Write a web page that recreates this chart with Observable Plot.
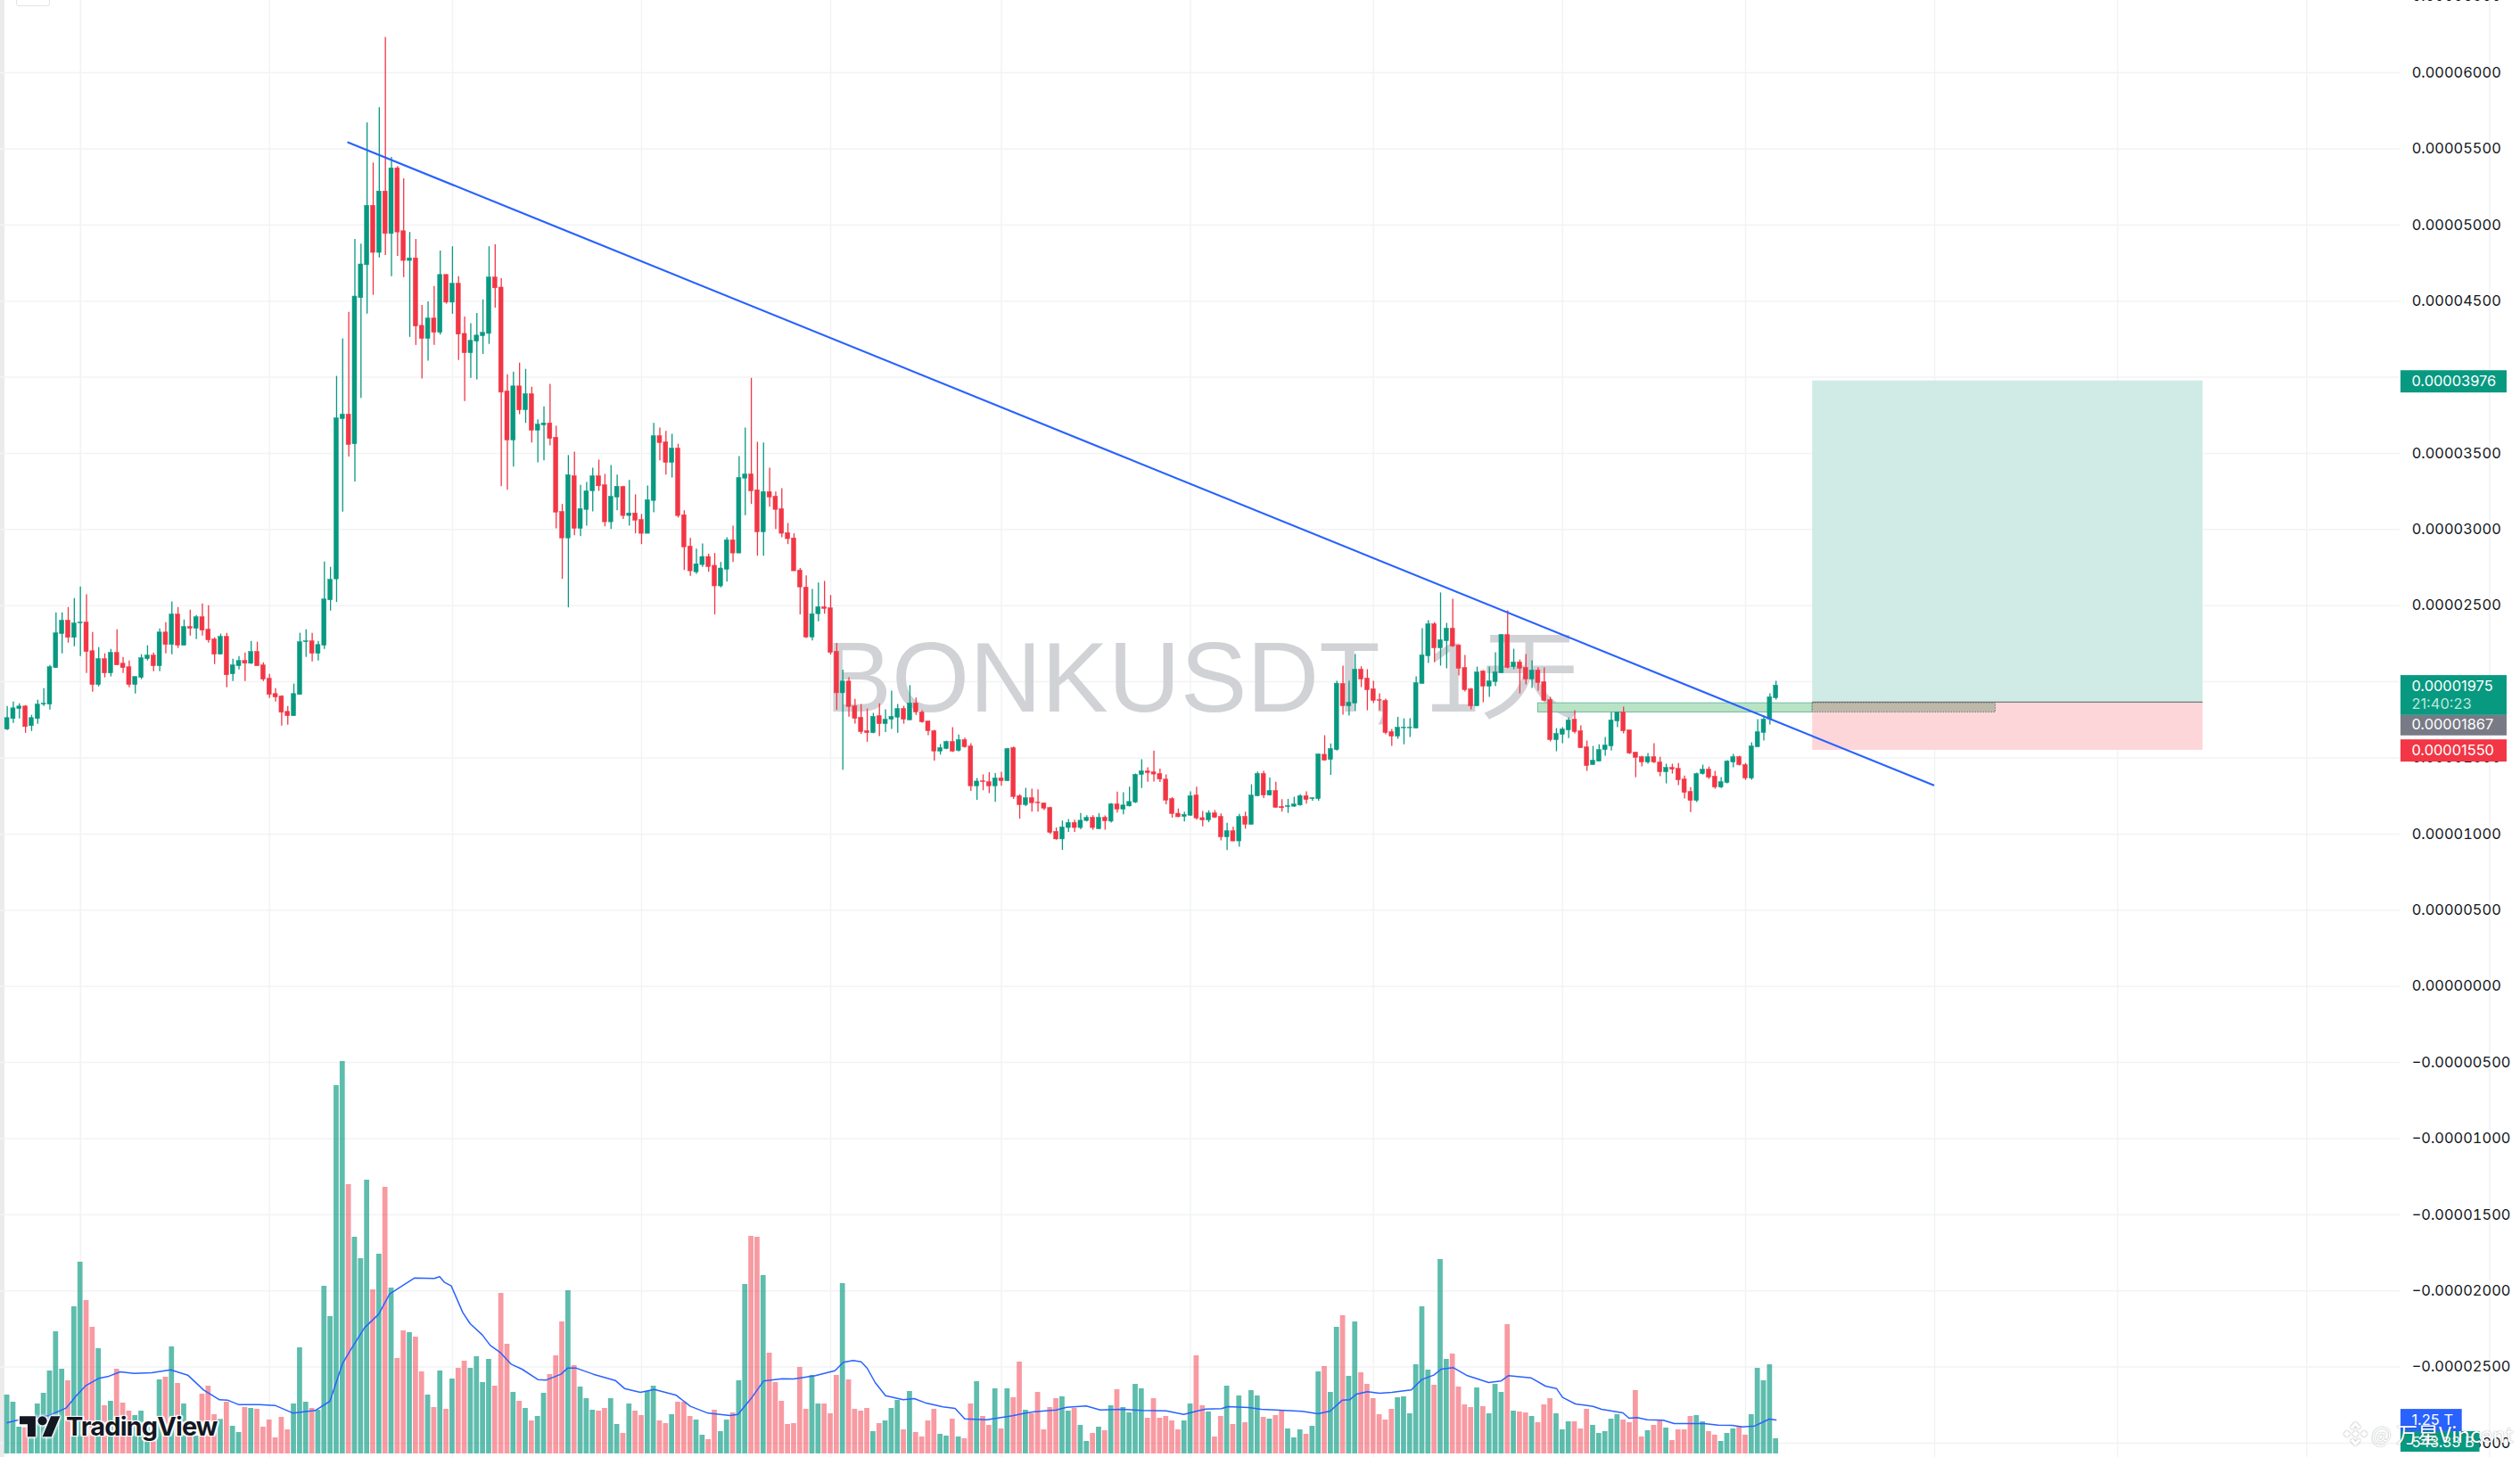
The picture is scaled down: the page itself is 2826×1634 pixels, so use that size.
<!DOCTYPE html>
<html>
<head>
<meta charset="utf-8">
<script src="https://cdn.jsdelivr.net/npm/d3@7"></script>
<script src="https://cdn.jsdelivr.net/npm/@observablehq/plot@0.6"></script>
<style>
html,body{margin:0;padding:0;background:#fff;}
#stage{position:relative;width:2826px;height:1634px;overflow:hidden;background:#fff;font-family:Inter,"Noto Sans CJK SC",sans-serif;}
#stage svg.layer{position:absolute;left:0;top:0;}
#strip{position:absolute;left:0;top:0;width:5px;height:1634px;background:#ebebeb;}
#corner{position:absolute;left:18px;top:-12px;width:36px;height:17px;border:1px solid #e0e3eb;border-radius:3px;background:#fff;}
#logo{position:absolute;left:22px;top:1583px;width:46px;height:36px;filter:drop-shadow(0 0 1px #fff) drop-shadow(0 0 1px #fff) drop-shadow(0 0 1px #fff);}
#logoText{position:absolute;left:74px;top:1583px;font:700 29px/34px Inter,sans-serif;letter-spacing:-.9px;color:#131722;text-shadow:1px 0 #fff,-1px 0 #fff,0 1px #fff,0 -1px #fff,2px 1px 1px #fff,-2px -1px 1px #fff,2px -1px 1px #fff,-2px 1px 1px #fff;}
#bnb{position:absolute;left:2627px;top:1593px;width:29px;height:30px;filter:drop-shadow(0 0 1.2px rgba(0,0,0,.4));}
#mark{position:absolute;left:2659px;top:1592px;font:400 24px/32px "Noto Sans CJK SC",Inter,sans-serif;color:#fff;text-shadow:0 0 2px rgba(0,0,0,.28),0 0 1px rgba(0,0,0,.2);white-space:pre;}
</style>
</head>
<body>
<div id="stage">
<div id="strip"></div>
<div id="corner"></div>
</div>
<script>
// prices in units of 0.00000001 USDT
const highs=[1838,1867,1856,1844,1780,1879,1955,2108,2453,2453,
2488,2547,2623,2571,2324,2225,2184,2213,2342,2160,
2137,2032,2178,2237,2190,2348,2389,2524,2488,2406,
2471,2436,2512,2500,2289,2313,2319,2149,2166,2190,
2266,2260,2125,2049,1955,1908,1838,1985,2319,2342,
2319,2266,2787,2752,4006,4252,4427,4905,4875,5671,
5407,5770,6231,5443,5384,5303,4951,4905,4472,4495,
4596,4829,4672,4857,4660,4396,4351,4419,4508,4857,
4870,4647,4016,4034,4092,4052,3935,3720,3806,3953,
3679,3165,3486,3509,3291,3309,3403,3456,3362,3421,
3357,3284,3322,3228,3099,3286,3697,3666,3644,3626,
3560,3124,2942,2871,2906,2838,2843,2784,2947,3023,
3479,3666,3993,3573,3568,3403,3246,3269,3040,2972,
2744,2696,2607,2649,2659,2567,2253,2077,2027,1885,
1852,1822,1793,1856,1816,1939,1852,1839,1975,1894,
1810,1741,1682,1588,1611,1699,1651,1630,1594,1366,
1389,1404,1398,1406,1563,1571,1259,1301,1295,1291,
1205,1176,1040,1086,1096,1092,1136,1121,1121,1134,
1119,1201,1276,1272,1308,1395,1488,1435,1546,1427,
1389,1239,1165,1144,1278,1308,1149,1153,1155,1132,
1071,1046,1130,1144,1324,1408,1412,1368,1341,1226,
1228,1243,1259,1278,1236,1527,1646,1592,2004,2103,
2003,2179,2099,2080,2003,1921,1886,1687,1767,1757,
1757,2033,2349,2402,2388,2584,2384,2543,2244,2173,
1957,2097,2074,2097,2191,2308,2466,2214,2144,2179,
2138,2091,2091,1898,1693,1699,1763,1810,1711,1611,
1576,1587,1634,1798,1798,1834,1681,1535,1511,1529,
1593,1505,1459,1459,1464,1382,1306,1400,1453,1441,
1412,1371,1482,1523,1511,1464,1599,1752,1775,1921,2003];
const lows=[1680,1727,1756,1662,1674,1721,1838,1815,2090,2184,
2254,2231,2166,2055,1932,1967,2026,2032,2108,2055,
1961,1920,2014,2137,2067,2067,2184,2178,2219,2237,
2301,2278,2301,2254,2114,2178,1961,2002,2078,2002,
2114,2102,2002,1891,1868,1709,1715,1774,1914,2160,
2131,2137,2213,2465,2521,3114,3476,3312,3861,4414,
4538,4784,4799,4660,4794,4655,4262,4209,3988,4105,
4209,4277,4480,4414,4110,3841,3993,3983,4150,4216,
4454,3281,3258,3410,3755,3697,3568,3438,3451,3550,
3005,2673,2486,2959,2954,3023,3116,3251,3018,3000,
3124,3066,3023,2972,2901,2972,3111,3451,3357,3339,
3076,2731,2693,2706,2752,2719,2440,2617,2655,2784,
2843,3091,3165,2825,2825,3147,3000,2947,2901,2726,
2440,2285,2268,2395,2444,2176,1814,1420,1768,1722,
1655,1603,1659,1640,1667,1688,1663,1722,1747,1780,
1728,1647,1479,1519,1554,1536,1540,1565,1280,1222,
1285,1266,1209,1314,1347,1228,1098,1180,1144,1144,
1155,998,960,893,1011,1011,1029,1080,1025,1029,
1025,1073,1138,1126,1178,1201,1300,1340,1342,1339,
1193,1105,1107,1080,1117,1092,1048,1075,1103,956,
893,950,914,1032,1061,1245,1234,1249,1172,1144,
1136,1176,1184,1197,1216,1216,1479,1385,1546,1781,
1775,1804,1962,1810,1857,1810,1652,1576,1623,1587,
1634,1693,1986,2121,2127,2103,2086,2226,2039,1933,
1816,1839,1863,1898,1968,2056,2086,2080,1921,1980,
1957,1939,1869,1605,1541,1593,1628,1658,1564,1412,
1453,1476,1511,1546,1699,1658,1523,1371,1441,1459,
1464,1377,1330,1394,1318,1230,1142,1207,1388,1359,
1295,1300,1330,1435,1447,1353,1353,1570,1611,1716,1880];
const opens=[1686,1756,1821,1838,1709,1756,1850,1850,2090,2313,
2401,2289,2383,2389,2201,1979,2149,2055,2190,2119,
2096,1979,2026,2149,2172,2102,2324,2242,2442,2237,
2360,2348,2424,2342,2278,2178,2295,2049,2102,2137,
2119,2196,2108,2020,1920,1903,1803,1774,1914,2260,
2266,2184,2237,2535,2673,3725,3755,3560,4520,4736,
5126,4817,5220,4941,5372,4959,4764,4781,4338,4252,
4386,4292,4672,4490,4614,4285,4158,4234,4270,4285,
4655,4589,3907,3585,3940,3783,3889,3649,3684,3697,
3603,3116,2942,3350,3005,3129,3251,3350,3291,3048,
3210,3279,3089,3106,3063,2972,3188,3613,3573,3438,
3532,3094,2888,2719,2767,2820,2762,2627,2736,2929,
2843,3334,3362,3258,2982,3246,3215,3134,2977,2942,
2731,2619,2291,2444,2490,2483,2197,1925,2002,1839,
1764,1676,1663,1774,1722,1751,1764,1822,1747,1858,
1799,1739,1676,1542,1559,1605,1546,1617,1575,1314,
1347,1341,1314,1366,1347,1565,1249,1190,1236,1207,
1201,1172,1015,965,1040,1073,1040,1086,1107,1033,
1107,1082,1195,1161,1182,1207,1389,1412,1406,1395,
1358,1230,1134,1113,1121,1253,1105,1090,1136,1113,
979,1019,952,1113,1061,1249,1395,1253,1283,1178,
1178,1180,1188,1249,1230,1230,1521,1487,1552,1986,
1839,1857,2080,2021,1951,1880,1875,1670,1640,1695,
1695,1693,1986,2168,2378,2220,2267,2349,2238,2091,
1951,1839,2068,1968,1998,2056,2308,2097,2127,2091,
2015,2074,1998,1880,1617,1652,1681,1752,1675,1570,
1453,1476,1552,1576,1740,1798,1681,1535,1505,1470,
1505,1470,1406,1435,1429,1359,1277,1218,1394,1423,
1377,1306,1336,1470,1505,1453,1365,1570,1664,1752,1892];
const closes=[1762,1826,1838,1703,1762,1850,1856,2096,2319,2401,
2289,2383,2389,2196,1979,2149,2055,2190,2108,2090,
1979,2032,2155,2172,2102,2324,2242,2442,2237,2360,
2348,2424,2336,2272,2178,2295,2043,2108,2137,2119,
2196,2102,2014,1914,1897,1797,1774,1920,2260,2266,
2184,2242,2541,2670,3730,3755,3555,4530,4741,5126,
4817,5220,4941,5372,4951,4764,4781,4333,4252,4386,
4292,4672,4490,4614,4280,4158,4239,4274,4292,4655,
4584,3899,3585,3940,3783,3889,3649,3689,3697,3595,
3111,2942,3357,3005,3134,3251,3350,3284,3048,3215,
3281,3089,3106,3058,2972,3192,3613,3568,3438,3532,
3089,2883,2726,2772,2820,2754,2627,2744,2929,2843,
3339,3362,3251,2982,3246,3210,3129,2972,2937,2726,
2620,2291,2444,2490,2479,2190,1925,2002,1835,1757,
1670,1663,1770,1722,1751,1770,1822,1751,1858,1799,
1734,1676,1542,1565,1605,1542,1617,1571,1314,1345,
1341,1314,1366,1347,1559,1243,1190,1236,1203,1203,
1167,1008,965,1044,1073,1040,1088,1107,1040,1107,
1084,1195,1161,1188,1211,1389,1412,1400,1391,1358,
1220,1132,1111,1126,1249,1103,1090,1136,1107,979,
1019,952,1113,1061,1253,1395,1253,1283,1172,1170,
1184,1195,1249,1224,1236,1523,1483,1559,1988,1839,
1863,2080,2015,1945,1875,1875,1664,1640,1699,1699,
1699,1992,2173,2378,2220,2273,2349,2232,2086,1945,
1839,2062,1968,2003,2062,2308,2091,2127,2086,2015,
2074,1992,1875,1617,1658,1687,1746,1670,1564,1447,
1482,1552,1582,1746,1798,1675,1529,1500,1470,1505,
1470,1406,1435,1423,1353,1271,1218,1394,1423,1371,
1306,1341,1476,1505,1453,1365,1576,1669,1752,1898,1975];
// volumes in billions
const volumes=[2178,1914,990,968,1000,1848,2244,3069,4521,3135,
2706,5445,7095,5676,4686,3894,1782,1947,3135,1881,
1584,1419,1584,990,660,2739,2838,3960,2607,1848,
660,660,2211,2508,1452,1276,1914,1023,792,1716,
1683,1650,990,1254,594,1353,891,1848,3927,1914,
1683,1617,6204,5082,13629,14520,9966,8019,7227,10131,
6072,7392,9867,6138,3531,4554,4488,4323,3036,2178,
1716,3069,1650,2772,3168,3432,3168,3597,2640,3498,
2508,5940,4059,2277,1947,1683,1221,1386,2244,2937,
3630,4884,6039,3267,2475,2046,1617,1584,1683,2046,
1089,759,1848,1584,1419,2310,2508,1221,1122,1452,
1914,1914,1386,1254,693,528,1617,825,1254,1518,
2706,6270,8052,8019,6600,3729,2640,1947,1089,1122,
3201,1650,2904,1848,1848,1485,2904,6303,2739,1650,
1584,1683,825,1122,1221,1683,1980,891,2310,792,
627,1221,1650,726,660,1287,627,561,1848,2673,
1386,1056,2409,924,2409,2079,3399,1617,1485,2277,
891,1716,2046,2112,1584,1683,1056,462,759,990,
858,1782,2376,1716,1518,2574,2409,1320,2046,1320,
1386,1221,891,1221,1848,3630,1782,1551,627,1386,
2508,1089,2145,1155,2343,2145,1353,1287,1419,1617,
924,594,891,726,1023,3036,3234,2277,4686,5115,
2871,4884,3003,2574,2046,1452,1254,1650,2079,2112,
1485,3300,5445,3102,2541,7194,3498,3696,2475,1815,
1716,2442,1749,1485,2574,2277,4785,1584,1551,1518,
1386,1155,1815,2046,1485,891,1188,1188,924,1650,
1056,759,825,1287,1452,1254,1155,2343,627,858,
1056,1221,957,495,891,891,1386,1419,1188,825,
693,462,759,924,1023,693,1452,3168,2706,3300,561];
// volume moving average, read at its visible vertices
const maBars=[0,1.8,6.7,9.7,11.3,12.9,15,16.5,18.5,20.8,23.7,26.8,29.6,32.2,34.8,36.1,37.9,41.3,43.9,46.9,50.5,52.9,55,56.3,58.6,60.9,62.7,66.8,70,70.9,71.7,72.8,74.7,75.9,77.9,79.2,80.9,82.6,84.4,87,88.3,90.8,91.9,93.2,96.1,99.7,101.2,103.8,106.1,109.7,112,114.9,118.5,119.8,122.1,124,127,128.9,132.5,135.7,137.1,138.7,140,141,142.3,144,146.9,148.7,150.5,153.4,155.4,157,160.6,164.8,167.1,168.4,172,173.7,176.9,179.2,182.8,186.1,190,192.9,195.2,196.5,199.1,200.1,203.5,205.6,207.9,212.3,214.9,216.9,218.9,220.1,221.2,223,225,227,230.2,231.9,233.9,235.1,237.1,239.4,242.9,244.9,246.1,249.8,252.2,254,255,257.1,260,261.4,264.9,265.9,267.2,268.9,271.5,273.3,278.2,280.5,282.8,284.5,286.5,288.9,290];
const maValues=[1155,1254,1408,1705,2145,2530,2794,2860,3036,2981,3003,3113,2915,2365,2002,1991,1826,1826,1793,1507,1606,1947,3355,3850,4675,5170,5918,6512,6490,6556,6347,6215,5225,4818,4400,4015,3740,3322,3135,2750,2728,2948,3179,3179,2948,2717,2420,2277,2387,2167,1760,1507,1419,1463,2090,2695,2783,2772,2893,3080,3388,3454,3410,3168,2640,2156,2002,2046,1892,1738,1683,1298,1265,1408,1518,1562,1628,1727,1771,1628,1650,1606,1595,1463,1595,1661,1672,1749,1716,1650,1628,1573,1485,1584,1991,2002,2211,2299,2244,2277,2365,2750,2915,3135,3190,2893,2640,2695,2893,2816,2508,2420,2090,1848,1760,1650,1518,1320,1342,1265,1243,1122,1122,1067,1056,1001,1034,1287,1254];
const priceTicks=[6500,6000,5500,5000,4500,4000,3500,3000,2500,2000,1500,1000,500,0,-500,-1000,-1500,-2000,-2500,-3000];
const timeTicks=[12,43,73,104,135,163,194,224,255,285,316,346,377,407];
const trendBars=[55.9,315.8], trendPrices=[5542,1321];
const targetPrice=3976, entryPrice=1867, stopPrice=1550;
const boxStart=296, boxEnd=360;
const zoneStart=251, zoneEnd=326, zoneTop=1859, zoneBottom=1799;
const tagNames=["target","last","entry","stop","volMA","vol"];
const tagFills=["#089981","#089981","#787b86","#f23645","#2962ff","#089981"];
const tagTops=[4043,2041,1779,1619,-2778,-2924];
const tagBottoms=[3897,1779,1645,1473,-2924,-3059];
const tagEnds=[409.85,409.85,409.85,409.85,402.5,405.4];
const tagTexts=["0.00003976","0.00001975","21:40:23","0.00001867","0.00001550","1.25 T","543.33 B"];
const tagTextY=[3971,1971,1854,1719,1550,-2851,-2994];
const tagTextFill=["#fff","#fff","#bfe6dc","#fff","#fff","#fff","#fff"];
const chartTitle="BONKUSDT, 1天";

const GREEN="#089981", RED="#f23645";
const candles=d3.range(highs.length).map(i=>({i,h:highs[i],l:lows[i],o:opens[i],c:closes[i],v:volumes[i],up:closes[i]>=opens[i]}));
const ma=maBars.map((b,k)=>({b,v:maValues[k]}));
const xScale={type:"linear",domain:[0,400],range:[7.6,7.6+400*6.84]};
const base={width:2826,height:1634,marginLeft:0,marginRight:135,marginTop:0,marginBottom:0,
  style:{background:"transparent",overflow:"visible"},className:"layer"};
const fmt=v=>(v<0?"\u2212":"")+(Math.abs(v)/1e8).toFixed(8);
const tags=tagNames.map((n,k)=>({n,f:tagFills[k],t:tagTops[k],b:tagBottoms[k],e:tagEnds[k]}));
const tagLabels=tagTexts.map((t,k)=>({t,y:tagTextY[k],f:tagTextFill[k]}));

const price=Plot.plot({...base,
  x:{...xScale,axis:null},
  y:{domain:[6000,-3000],range:[81,1618],axis:null},
  color:{type:"identity"},
  marks:[
    Plot.gridX(timeTicks,{stroke:"#f2f3f5",strokeOpacity:1,strokeWidth:1.5}),
    Plot.gridY(priceTicks,{stroke:"#f2f3f5",strokeOpacity:1,strokeWidth:1.5}),
    Plot.text([chartTitle],{x:[134.1],y:[2012],text:d=>d,textAnchor:"start",lineAnchor:"middle",fontSize:112,fontFamily:'"Liberation Sans","Noto Sans CJK SC",sans-serif',fill:"#d1d2d6"}),
    Plot.rect([0],{x1:[boxStart],x2:[boxEnd],y1:[targetPrice],y2:[entryPrice],fill:"#d0ebe5"}),
    Plot.rect([0],{x1:[boxStart],x2:[boxEnd],y1:[entryPrice],y2:[stopPrice],fill:"#fdd6da"}),
    Plot.rect([0],{x1:[zoneStart],x2:[boxStart],y1:[zoneTop],y2:[zoneBottom],fill:"#b8e3c4",stroke:"#74b8a4",strokeWidth:1}),
    Plot.rect([0],{x1:[boxStart],x2:[zoneEnd],y1:[zoneTop],y2:[zoneBottom],fill:"#bdb8a8",stroke:"#6b7a7d",strokeWidth:1,strokeDasharray:"1.5,1.5"}),
    Plot.ruleY([entryPrice],{x1:boxStart,x2:boxEnd,stroke:"#6b7a7d",strokeWidth:1.2}),
    Plot.ruleX(candles,{x:"i",y1:"l",y2:"h",stroke:d=>d.up?GREEN:RED,strokeWidth:1.3}),
    Plot.rect(candles,{x1:d=>d.i-.36,x2:d=>d.i+.36,y1:"o",y2:"c",fill:d=>d.up?GREEN:RED,stroke:d=>d.up?GREEN:RED,strokeWidth:.5}),
    Plot.line(d3.range(2),{x:i=>trendBars[i],y:i=>trendPrices[i],stroke:"#2962ff",strokeWidth:2.2}),
    Plot.axisY({anchor:"right",ticks:priceTicks,tickFormat:fmt,tickSize:0,tickPadding:13.2,label:null,fontSize:16.4,fontFamily:"Inter, sans-serif",fill:"#131722",textAnchor:"start"}),
    Plot.rect(tags,{x1:392.45,x2:"e",y1:"t",y2:"b",fill:"f"}),
    Plot.text(tagLabels,{x:394.2,y:"y",text:"t",fill:"f",textAnchor:"start",lineAnchor:"middle",fontSize:16.4,fontFamily:"Inter, sans-serif"})
  ]});
const volume=Plot.plot({...base,
  x:{...xScale,axis:null},
  y:{domain:[0,14520],range:[1630,1190],axis:null},
  color:{type:"identity"},
  marks:[
    Plot.rect(candles,{x1:d=>d.i-.42,x2:d=>d.i+.42,y1:0,y2:"v",fill:d=>d.up?GREEN:RED,fillOpacity:d=>d.up?.65:.5}),
    Plot.line(ma,{x:"b",y:"v",stroke:"#2962ff",strokeWidth:1.5})
  ]});
const stage=document.getElementById("stage");
price.classList.add("layer");volume.classList.add("layer");
stage.appendChild(price);stage.appendChild(volume);
stage.insertAdjacentHTML("beforeend",`
<svg id="logo" viewBox="0 0 36 28"><path fill="#131722" d="M14 22H7V11H0V4h14v18zM28 22h-8l7.5-18h8L28 22z"/><circle fill="#131722" cx="20" cy="8" r="4"/></svg>
<div id="logoText">TradingView</div>
<svg id="bnb" viewBox="0 0 30 30"><g fill="#fff"><path d="M15 1l6 6-2.5 2.5L15 6l-3.500 3.500L9 7z"/><path d="M15 29l6-6-2.500-2.500L15 24l-3.500-3.500L9 23z"/><path d="M5 11l4 4-4 4-4-4z"/><path d="M25 11l4 4-4 4-4-4z"/><path d="M15 11l4 4-4 4-4-4z"/></g></svg>
<div id="mark">@ 万星Vincent</div>`);
</script>
</body>
</html>
